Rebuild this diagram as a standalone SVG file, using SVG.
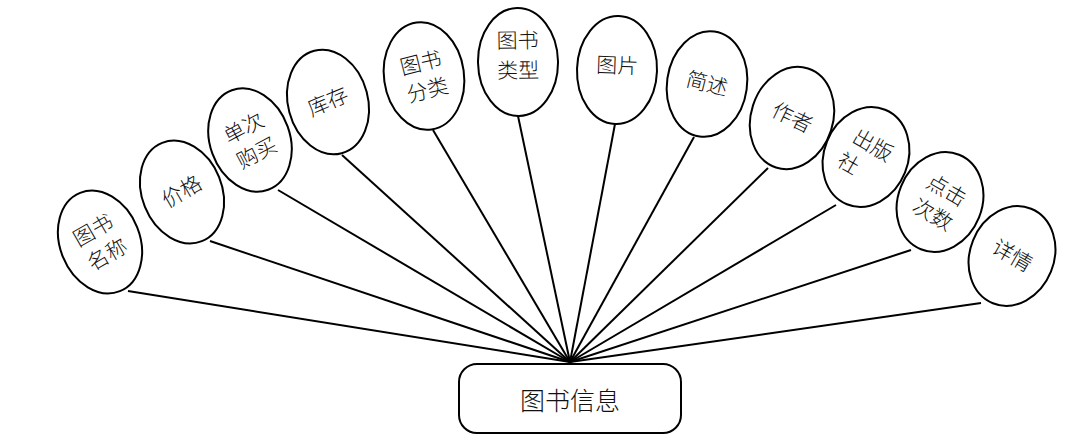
<svg xmlns="http://www.w3.org/2000/svg" width="1071" height="441" viewBox="0 0 1071 441">
<style>
.e{fill:#fff;stroke:#000;stroke-width:2}
.t{font-family:"Noto Sans CJK SC","Liberation Sans",sans-serif;font-size:21px;font-weight:300;text-anchor:middle;fill:#111}
.c line{stroke:#000;stroke-width:2}
</style>
<rect width="1071" height="441" fill="#fff"/>
<g class="c">
<line x1="570" y1="362" x2="128" y2="291"/>
<line x1="570" y1="362" x2="210" y2="241"/>
<line x1="570" y1="362" x2="278" y2="190"/>
<line x1="570" y1="362" x2="342" y2="155"/>
<line x1="570" y1="362" x2="433" y2="130"/>
<line x1="570" y1="362" x2="518" y2="116"/>
<line x1="570" y1="362" x2="615" y2="124"/>
<line x1="570" y1="362" x2="694" y2="137"/>
<line x1="570" y1="362" x2="768" y2="168"/>
<line x1="570" y1="362" x2="836" y2="205"/>
<line x1="570" y1="362" x2="911" y2="250"/>
<line x1="570" y1="362" x2="981" y2="303"/>
</g>
<g id="n1" transform="translate(100,242) rotate(-22)"><ellipse class="e" rx="40" ry="53"/><g transform="rotate(-8)"><text class="t" y="-6">图书</text><text class="t" y="22">名称</text></g></g>
<g id="n2" transform="translate(182,192) rotate(-22)"><ellipse class="e" rx="40" ry="53"/><g transform="rotate(-8)"><text class="t" y="7">价格</text></g></g>
<g id="n3" transform="translate(250,140) rotate(-20)"><ellipse class="e" rx="40" ry="53"/><g transform="rotate(-8)"><text class="t" y="-6">单次</text><text class="t" y="22">购买</text></g></g>
<g id="n4" transform="translate(328,102) rotate(-15)"><ellipse class="e" rx="40" ry="53"/><g transform="rotate(-8)"><text class="t" y="7">库存</text></g></g>
<g id="n5" transform="translate(424,76) rotate(-8)"><ellipse class="e" rx="40" ry="54"/><g transform="rotate(-6)"><text class="t" y="-6">图书</text><text class="t" y="22">分类</text></g></g>
<g id="n6" transform="translate(518,62) rotate(-1)"><ellipse class="e" rx="40" ry="54"/><text class="t" y="-14">图书</text><text class="t" y="16">类型</text></g>
<g id="n7" transform="translate(617,70) rotate(2)"><ellipse class="e" rx="40" ry="54"/><text class="t" y="3">图片</text></g>
<g id="n8" transform="translate(707,84) rotate(8)"><ellipse class="e" rx="40" ry="53"/><g transform="rotate(6)"><text class="t" y="7">简述</text></g></g>
<g id="n9" transform="translate(792,118) rotate(18)"><ellipse class="e" rx="41" ry="52"/><g transform="rotate(8)"><text class="t" y="7">作者</text></g></g>
<g id="n10" transform="translate(866,157) rotate(22)"><ellipse class="e" rx="42" ry="51"/><g transform="rotate(8)"><text class="t" y="-6">出版</text><text class="t" x="-12" y="22">社</text></g></g>
<g id="n11" transform="translate(940,202) rotate(22)"><ellipse class="e" rx="42" ry="51"/><g transform="rotate(8)"><text class="t" y="-6">点击</text><text class="t" y="22">次数</text></g></g>
<g id="n12" transform="translate(1012,256) rotate(22)"><ellipse class="e" rx="42" ry="51"/><g transform="rotate(8)"><text class="t" y="7">详情</text></g></g>
<g id="center"><rect class="e" x="459" y="364" width="222" height="69" rx="18"/><text class="t" x="570" y="410" style="font-size:25px">图书信息</text></g>
</svg>
